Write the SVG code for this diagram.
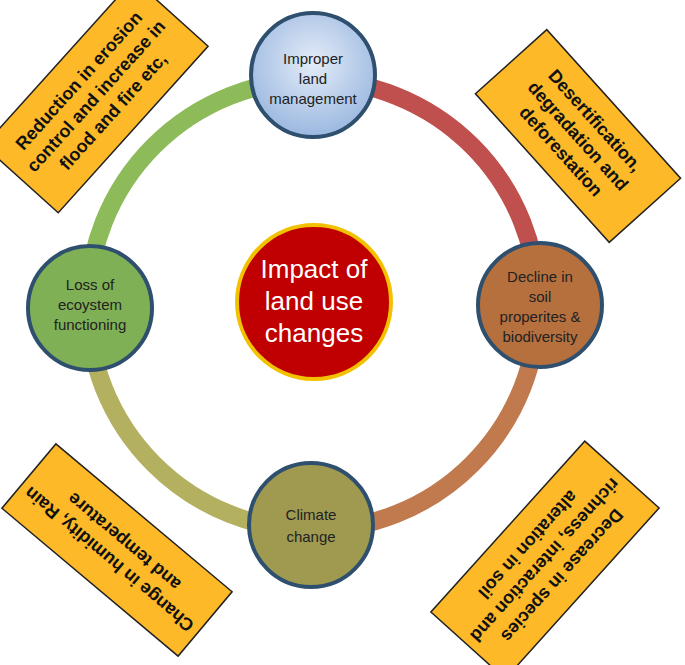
<svg xmlns="http://www.w3.org/2000/svg" width="685" height="665" viewBox="0 0 685 665">
<style>
.box{fill:#fdb927;stroke:#222;stroke-width:1.5}
.bt{font-family:"Liberation Sans",Arial,sans-serif;font-size:18px;font-weight:bold;fill:#111;text-anchor:middle}
.nt{font-family:"Liberation Sans",Arial,sans-serif;font-size:15px;fill:#222;text-anchor:middle}
.arc{fill:none;stroke-width:18}
.node{stroke:#2f4f6f;stroke-width:4}
</style>
<defs>
<radialGradient id="g1" cx="50%" cy="40%" r="60%"><stop offset="0" stop-color="#e4ecf8"/><stop offset="1" stop-color="#9bb8e0"/></radialGradient>
</defs>
<rect width="685" height="665" fill="#fff"/>
<g id="connectors">
<path class="arc" stroke="#c0504d" d="M313 80 A225 225 0 0 1 538 305"/>
<path class="arc" stroke="#c07a4e" d="M538 305 A225 225 0 0 1 313 530"/>
<path class="arc" stroke="#b3b060" d="M313 530 A225 225 0 0 1 88 305"/>
<path class="arc" stroke="#8dbb5a" d="M88 305 A225 225 0 0 1 313 80"/>
</g>
<g id="center"><circle cx="314" cy="302" r="77" fill="#c00000" stroke="#f2c200" stroke-width="4"/>
<text class="nt" style="font-size:26px;fill:#fff"><tspan x="314" y="278">Impact of</tspan><tspan x="314" y="310">land use</tspan><tspan x="314" y="342">changes</tspan></text></g>
<g id="n1"><circle class="node" cx="313" cy="75" r="62" fill="url(#g1)"/>
<text class="nt"><tspan x="313" y="64">Improper</tspan><tspan x="313" y="84">land</tspan><tspan x="313" y="104">management</tspan></text></g>
<g id="n2"><circle class="node" cx="540" cy="305" r="62" fill="#b5703e"/>
<text class="nt"><tspan x="540" y="282">Decline in</tspan><tspan x="540" y="302">soil</tspan><tspan x="540" y="322">properites &amp;</tspan><tspan x="540" y="342">biodiversity</tspan></text></g>
<g id="n3"><circle class="node" cx="311" cy="525" r="62" fill="#9f9a50"/>
<text class="nt"><tspan x="311" y="520">Climate</tspan><tspan x="311" y="542">change</tspan></text></g>
<g id="n4"><circle class="node" cx="90" cy="308" r="62" fill="#7fb055"/>
<text class="nt"><tspan x="90" y="290">Loss of</tspan><tspan x="90" y="310">ecoystem</tspan><tspan x="90" y="330">functioning</tspan></text></g>
<g id="b1" transform="translate(96,96) rotate(-48)"><rect class="box" x="-112" y="-50" width="224" height="100"/>
<text class="bt"><tspan x="0" y="-17">Reduction in erosion</tspan><tspan x="0" y="6">control and increase in</tspan><tspan x="0" y="29">flood and fire etc,</tspan></text></g>
<g id="b2" transform="translate(578,136) rotate(48)"><rect class="box" x="-100" y="-48" width="200" height="96"/>
<text class="bt"><tspan x="0" y="-17">Desertification,</tspan><tspan x="0" y="6">degradation and</tspan><tspan x="0" y="29">deforestation</tspan></text></g>
<g id="b3" transform="translate(117,550) rotate(-140)"><rect class="box" x="-115" y="-42" width="230" height="84"/>
<text class="bt"><tspan x="0" y="-6">Change in humidity, Rain</tspan><tspan x="0" y="17">and temperature</tspan></text></g>
<g id="b4" transform="translate(545,560) rotate(132)"><rect class="box" x="-115" y="-50" width="230" height="100"/>
<text class="bt"><tspan x="0" y="-17">Decrease in species</tspan><tspan x="0" y="6">richness, interaction and</tspan><tspan x="0" y="29">alteration in soil</tspan></text></g>
</svg>
